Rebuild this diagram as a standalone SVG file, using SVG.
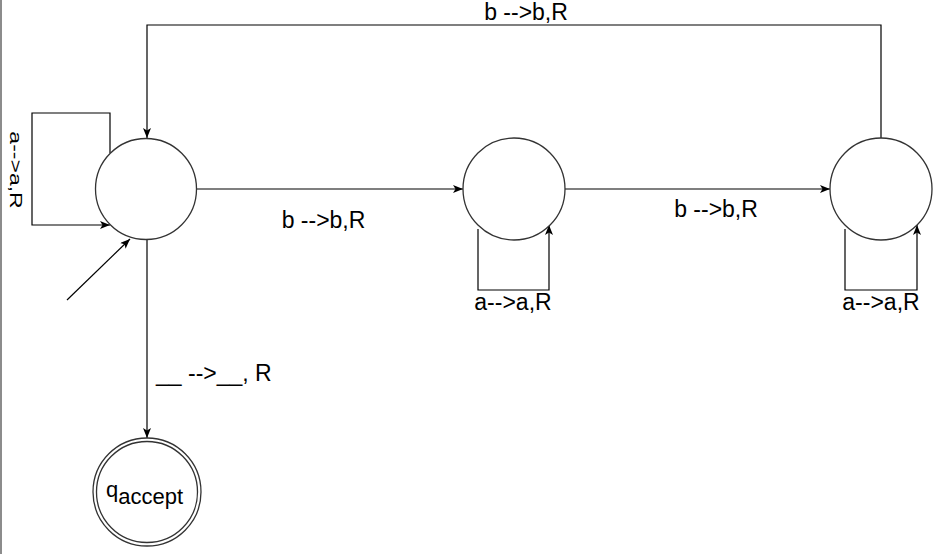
<svg xmlns="http://www.w3.org/2000/svg" width="935" height="554" viewBox="0 0 935 554">
<style>
  .st{fill:#fff;stroke:#333;stroke-width:1.3}
  .e{fill:none;stroke:#000;stroke-width:1.2}
  .lb{font-family:"Liberation Sans",Arial,sans-serif;font-size:23px;fill:#000}
  .nl{font-family:"Liberation Sans",Arial,sans-serif;font-size:22px;fill:#000}
</style>
<defs>
  <marker id="ah" viewBox="0 0 10 8" refX="10" refY="4" markerWidth="10" markerHeight="8" markerUnits="userSpaceOnUse" orient="auto">
    <path d="M0,0 L10,4 L0,8 L2.5,4 z" fill="#000"/>
  </marker>
</defs>
<rect width="935" height="554" fill="#fff"/>
<line x1="1" y1="0" x2="1" y2="554" stroke="#666" stroke-width="1.5"/>
<g id="connectors">
  <path class="e" d="M67,300 L130,239" marker-end="url(#ah)"/>
  <path class="e" d="M110,153 L110,113 L32,113 L32,225 L110,225" marker-end="url(#ah)"/>
  <path class="e" d="M196,189 L463,189" marker-end="url(#ah)"/>
  <path class="e" d="M565,189 L830,189" marker-end="url(#ah)"/>
  <path class="e" d="M881,138 L881,25 L147,25 L147,138" marker-end="url(#ah)"/>
  <path class="e" d="M478,229 L478,290 L549,290 L549,225" marker-end="url(#ah)"/>
  <path class="e" d="M845,229 L845,290 L917,290 L917,225" marker-end="url(#ah)"/>
  <path class="e" d="M147,240 L147,438" marker-end="url(#ah)"/>
  <text class="lb" transform="translate(10,170) rotate(90) scale(1,0.75)" text-anchor="middle">a--&gt;a,R</text>
  <text class="lb" x="323.5" y="228" text-anchor="middle">b --&gt;b,R</text>
  <text class="lb" x="716" y="217" text-anchor="middle">b --&gt;b,R</text>
  <text class="lb" x="526" y="20" text-anchor="middle">b --&gt;b,R</text>
  <text class="lb" x="513" y="310" text-anchor="middle">a--&gt;a,R</text>
  <text class="lb" x="881" y="310" text-anchor="middle">a--&gt;a,R</text>
  <text class="lb" x="156" y="381">__ --&gt;__, R</text>
</g>
<g id="q0">
  <circle class="st" cx="146" cy="189" r="50.5"/>
</g>
<g id="q1">
  <circle class="st" cx="514" cy="189" r="51"/>
</g>
<g id="q2">
  <circle class="st" cx="881" cy="189" r="51"/>
</g>
<g id="qaccept">
  <circle class="st" cx="147" cy="492" r="54"/>
  <circle class="st" cx="147" cy="492" r="50.5"/>
  <text class="nl" x="106" y="497">q<tspan font-size="22" dy="7">accept</tspan></text>
</g>
</svg>
